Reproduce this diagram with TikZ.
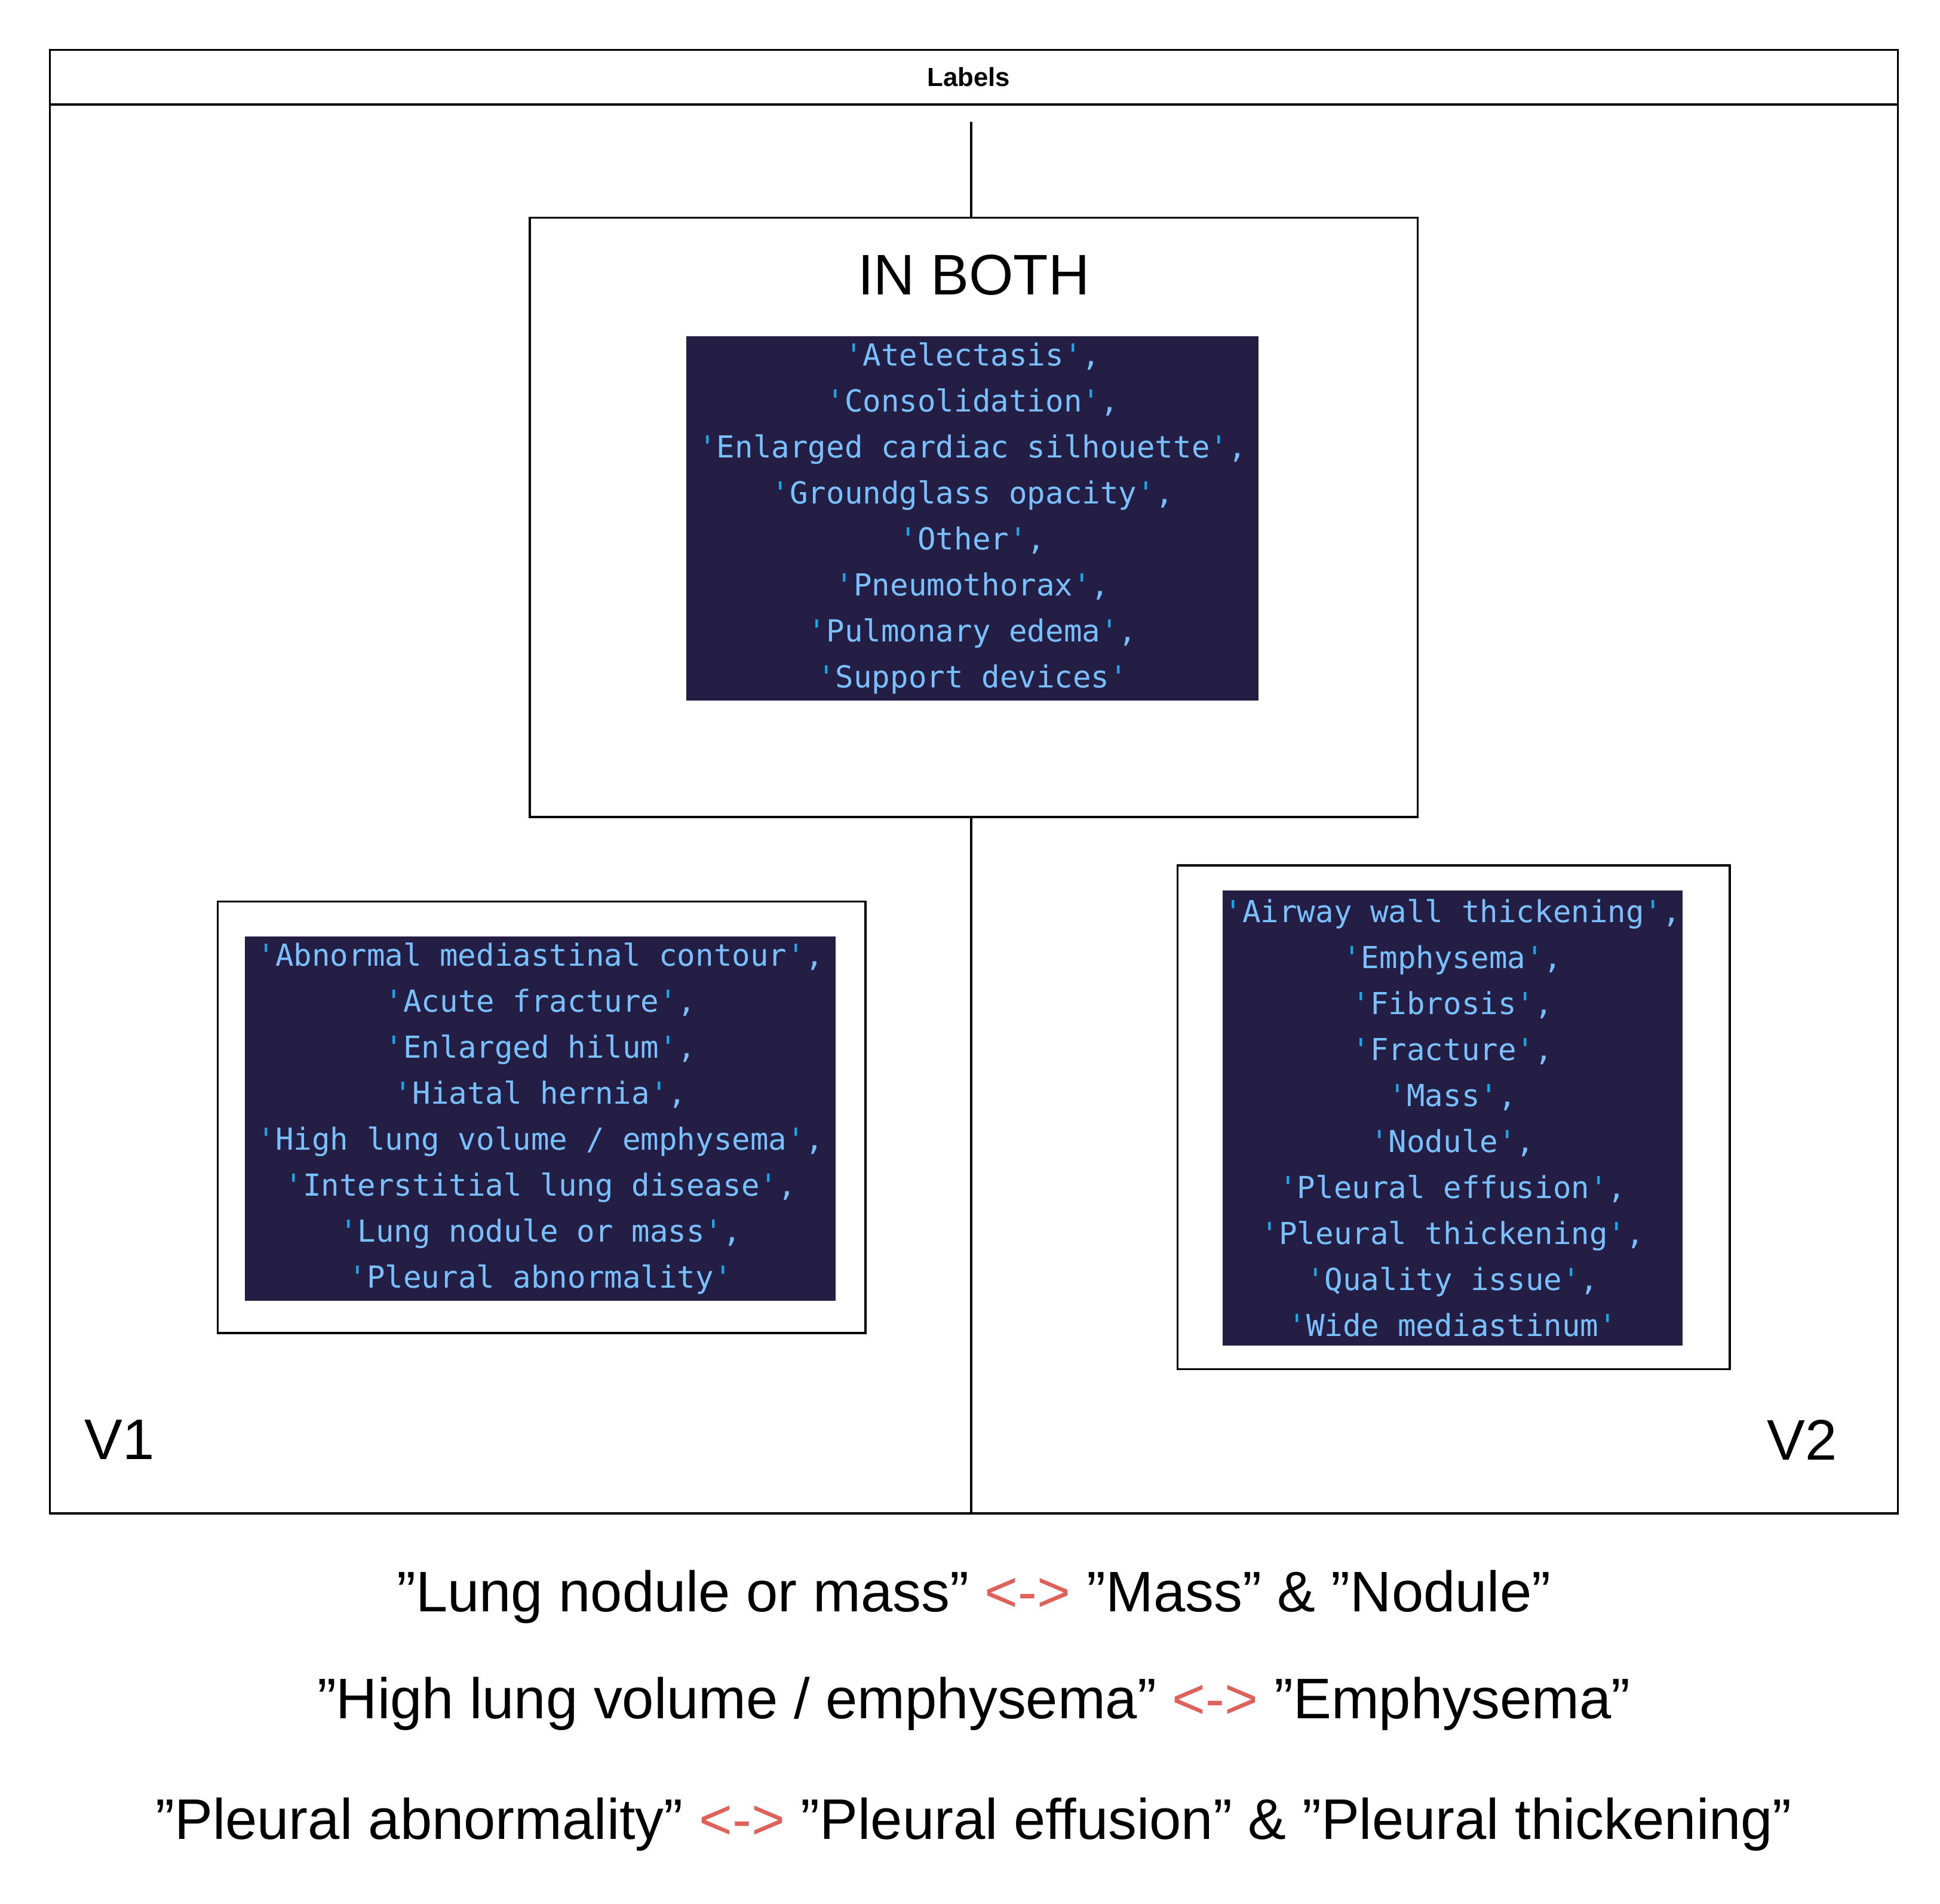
\documentclass[tikz,border=0pt]{standalone}
\usepackage{fontspec}
\setmainfont{Liberation Sans}
\newfontfamily\codefont{DejaVu Sans Mono}
\definecolor{codebg}{HTML}{241E44}
\definecolor{codetx}{HTML}{79C0FF}
\definecolor{codeq}{HTML}{1AA7EC}
\definecolor{arr}{HTML}{E0605A}
\newcommand{\qq}[1]{\textcolor{codeq}{'}#1\textcolor{codeq}{'}}
\begin{document}
\begin{tikzpicture}[x=0.5pt,y=-0.5pt,
  frame/.style={draw=black,line width=0.8pt},
  code/.style={fill=codebg,text=codetx,align=center,font=\codefont\fontsize{12.2}{18.5}\selectfont,inner sep=0pt},
  big/.style={font=\fontsize{23}{27}\selectfont}]
\useasboundingbox (0,0) rectangle (1560,1531);
\draw[frame] (40,40) rectangle (1526,1217);
\draw[frame] (40,84) -- (1526,84);
\node[font=\bfseries\fontsize{10.5}{12}\selectfont] (lbl) at (779,62) {Labels};
\node[frame,minimum width=357pt,minimum height=241pt] (both) at (783,416) {};
\coordinate (top) at (781,98);
\coordinate (bot) at (781,1217);
\draw[frame] (top) -- (top|-both.north);
\draw[frame] (bot|-both.south) -- (bot);
\node[big] (ib) at (783,221) {IN BOTH};
\node[code,minimum width=230pt,minimum height=146.5pt] (cb) at (782,417) {\qq{Atelectasis},\\\qq{Consolidation},\\\qq{Enlarged cardiac silhouette},\\\qq{Groundglass opacity},\\\qq{Other},\\\qq{Pneumothorax},\\\qq{Pulmonary edema},\\\qq{Support devices}};
\node[frame,minimum width=260.5pt,minimum height=173.5pt] (v1b) at (435.5,898.5) {};
\node[code,minimum width=237.5pt,minimum height=146.5pt] (c1) at (434.5,899.5) {\qq{Abnormal mediastinal contour},\\\qq{Acute fracture},\\\qq{Enlarged hilum},\\\qq{Hiatal hernia},\\\qq{High lung volume / emphysema},\\\qq{Interstitial lung disease},\\\qq{Lung nodule or mass},\\\qq{Pleural abnormality}};
\node[frame,minimum width=222pt,minimum height=202.5pt] (v2b) at (1169,898.5) {};
\node[code,minimum width=185pt,minimum height=183pt] (c2) at (1168,899) {\qq{Airway wall thickening},\\\qq{Emphysema},\\\qq{Fibrosis},\\\qq{Fracture},\\\qq{Mass},\\\qq{Nodule},\\\qq{Pleural effusion},\\\qq{Pleural thickening},\\\qq{Quality issue},\\\qq{Wide mediastinum}};
\node[big] (v1) at (96,1158) {V1};
\node[big] (v2) at (1449,1158) {V2};
\node[big] (m1) at (783,1284) {"Lung nodule or mass" \textcolor{arr}{<->} "Mass" \& "Nodule"};
\node[big] (m2) at (783,1370) {"High lung volume / emphysema" \textcolor{arr}{<->} "Emphysema"};
\node[big] (m3) at (783,1467) {"Pleural abnormality" \textcolor{arr}{<->} "Pleural effusion" \& "Pleural thickening"};
\end{tikzpicture}
\end{document}
